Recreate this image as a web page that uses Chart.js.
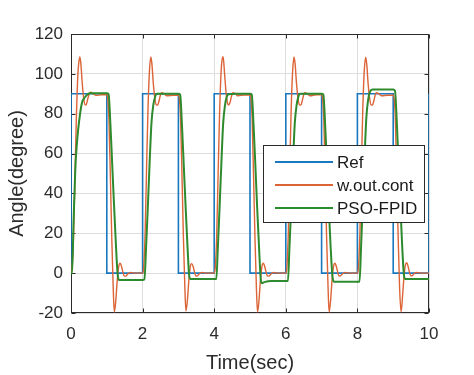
<!DOCTYPE html>
<html>
<head>
<meta charset="utf-8">
<script src="https://cdn.jsdelivr.net/npm/chart.js@4.4.1/dist/chart.umd.min.js"></script>
<style>
  html, body { margin: 0; padding: 0; background: #fff; }
  #wrap { width: 474px; height: 375px; }
</style>
</head>
<body>
<div id="wrap"><canvas id="angleChart" width="474" height="375"></canvas></div>
<script>
/* ─── Data ─── */
const xTicks = [0, 2, 4, 6, 8, 10];
const yTicks = [-20, 0, 20, 40, 60, 80, 100, 120];

const refTime  = [0, 0, 1, 1, 2, 2, 3, 3, 4, 4, 5, 5, 6, 6, 7, 7, 8, 8, 9, 9, 10, 10];
const refAngle = [0, 90, 90, 0, 0, 90, 90, 0, 0, 90, 90, 0, 0, 90, 90, 0, 0, 90, 90, 0, 0, 90];

const orangeTime = [
  0.00, 0.03, 0.07, 0.11, 0.15, 0.19, 0.22, 0.25, 0.28, 0.32, 0.36, 0.40, 0.43, 0.47, 0.51, 0.55, 0.62, 0.70, 0.85,
  1.00, 1.03, 1.06, 1.10, 1.14, 1.18, 1.21, 1.25, 1.29, 1.33, 1.37, 1.41, 1.45, 1.49, 1.53, 1.58, 1.66, 1.80,
  2.00, 2.03, 2.07, 2.11, 2.15, 2.19, 2.23, 2.26, 2.30, 2.34, 2.38, 2.42, 2.46, 2.50, 2.54, 2.60, 2.68, 2.85,
  3.00, 3.03, 3.06, 3.10, 3.14, 3.18, 3.21, 3.25, 3.29, 3.33, 3.37, 3.41, 3.45, 3.49, 3.53, 3.58, 3.66, 3.80,
  4.00, 4.03, 4.07, 4.11, 4.15, 4.19, 4.22, 4.25, 4.29, 4.33, 4.37, 4.40, 4.44, 4.48, 4.52, 4.58, 4.66, 4.85,
  5.00, 5.03, 5.06, 5.10, 5.14, 5.18, 5.21, 5.25, 5.29, 5.33, 5.37, 5.41, 5.45, 5.49, 5.53, 5.58, 5.66, 5.80,
  6.00, 6.03, 6.07, 6.11, 6.15, 6.19, 6.23, 6.26, 6.30, 6.34, 6.38, 6.42, 6.46, 6.50, 6.54, 6.60, 6.68, 6.85,
  7.00, 7.03, 7.06, 7.10, 7.14, 7.18, 7.21, 7.25, 7.29, 7.33, 7.37, 7.41, 7.45, 7.49, 7.53, 7.58, 7.66, 7.80,
  8.00, 8.03, 8.07, 8.11, 8.15, 8.19, 8.23, 8.26, 8.30, 8.34, 8.38, 8.42, 8.46, 8.50, 8.54, 8.60, 8.68, 8.85,
  9.00, 9.03, 9.06, 9.10, 9.14, 9.18, 9.22, 9.26, 9.30, 9.34, 9.38, 9.41, 9.45, 9.49, 9.53, 9.58, 9.66, 9.80,
  10.00
];
const orangeAngle = [
  0, 3, 18, 48, 78, 99, 106, 108.5, 104, 94, 87, 84.3, 84.8, 87.5, 90, 90.8, 90, 89.2, 89.5,
  89.5, 87, 77, 48, 17, -8, -19.5, -14, -4, 3, 5, 3.5, 0.5, -1.5, -1.5, -0.5, 0.3, 0,
  0, 3, 20, 52, 82, 101, 108.5, 105, 95, 88, 84.5, 84.3, 86.5, 89.5, 90.5, 90, 89, 89.3,
  89.3, 87, 78, 49, 18, -7, -19, -14, -4, 3, 4.8, 3.5, 0.5, -1.5, -1.4, -0.4, 0.3, 0,
  0, 3, 19, 50, 80, 100, 107, 108.6, 100, 91, 85.5, 84.4, 85.5, 88.5, 90.5, 90.2, 89, 89.4,
  89.4, 87, 77, 48, 17, -8, -19.5, -14, -4, 3, 5, 3.5, 0.5, -1.5, -1.5, -0.5, 0.3, 0,
  0, 3, 20, 52, 82, 101, 108.5, 105, 95, 88, 84.5, 84.3, 86.5, 89.5, 90.5, 90, 89, 89.5,
  89.5, 87, 78, 49, 18, -7, -19.5, -14, -4, 3, 5, 3.5, 0.5, -1.5, -1.4, -0.4, 0.3, 0,
  0, 3, 20, 52, 82, 101, 108.3, 105, 95, 88, 84.5, 84.3, 86.5, 89.5, 90.5, 90, 89, 89.3,
  89.3, 87, 77, 48, 17, -8, -19.5, -12, -2, 4, 5.2, 3.8, 0.8, -1.2, -1.3, -0.3, 0.3, 0,
  0
];

const greenTime = [
  0.00, 0.03, 0.07, 0.12, 0.16, 0.20, 0.30, 0.40, 0.53, 0.90,
  1.00, 1.05, 1.10, 1.15, 1.20, 1.25, 1.30, 1.34, 1.60,
  2.00, 2.05, 2.10, 2.15, 2.20, 2.25, 2.30, 2.35, 2.40, 2.60,
  3.00, 3.05, 3.10, 3.15, 3.20, 3.25, 3.30, 3.34, 3.60,
  4.00, 4.06, 4.10, 4.15, 4.20, 4.25, 4.30, 4.35, 4.40, 4.60,
  5.00, 5.05, 5.10, 5.15, 5.20, 5.25, 5.30, 5.33, 5.40, 5.60,
  6.00, 6.06, 6.10, 6.15, 6.20, 6.25, 6.30, 6.35, 6.40, 6.60,
  7.00, 7.05, 7.10, 7.15, 7.20, 7.25, 7.30, 7.34, 7.60,
  8.00, 8.06, 8.10, 8.15, 8.20, 8.25, 8.30, 8.35, 8.42, 8.60,
  9.00, 9.05, 9.10, 9.15, 9.20, 9.25, 9.30, 9.34, 9.60,
  10.00
];
const greenAngle = [
  0, 0, 25, 52, 64, 72, 85, 88.5, 90.3, 90.3,
  90.3, 89.8, 75, 55, 35, 16, 0, -3.4, -3.4,
  -3.4, -3.2, 14, 35, 57, 76, 84.5, 88.5, 90, 90,
  90, 89.5, 74, 54, 34, 15, -1, -3, -3,
  -3, -3, 12, 33, 55, 75, 84, 88.5, 89.8, 90,
  90, 89.5, 74, 54, 33, 14, -3, -5, -4.5, -4,
  -4, -4, 12, 33, 55, 75, 84, 88.5, 90, 90,
  90, 89.5, 74, 54, 33, 14, -1, -4.3, -4.3,
  -4.3, -4.3, 12, 35, 58, 78, 87, 91, 92.2, 92.2,
  92.2, 91.5, 76, 55, 34, 14, -1, -3, -3,
  -3
];

const toPoints = (ts, ys) => ts.map((t, i) => ({ x: t, y: ys[i] }));

const FONT = '"Liberation Sans", Arial, Helvetica, sans-serif';
const TEXT = '#2b2b2b';

/* ─── Axes frame with inward ticks (drawn under the lines) ─── */
const axesBox = {
  id: 'axesBox',
  beforeDatasetsDraw(chart) {
    const { ctx, chartArea: a, scales: { x, y } } = chart;
    const L = Math.round(a.left) + 0.5, R = Math.round(a.right) - 0.5;
    const T = Math.round(a.top) + 0.5, B = Math.round(a.bottom) - 0.5;
    ctx.save();
    ctx.strokeStyle = TEXT;
    ctx.lineWidth = 1;
    ctx.strokeRect(L, T, R - L, B - T);
    ctx.beginPath();
    xTicks.forEach(v => {
      const px = Math.round(x.getPixelForValue(v)) + 0.5;
      ctx.moveTo(px, B); ctx.lineTo(px, B - 4);
      ctx.moveTo(px, T); ctx.lineTo(px, T + 4);
    });
    yTicks.forEach(v => {
      const py = Math.round(y.getPixelForValue(v)) + 0.5;
      ctx.moveTo(L, py); ctx.lineTo(L + 4, py);
      ctx.moveTo(R, py); ctx.lineTo(R - 4, py);
    });
    ctx.stroke();
    ctx.restore();
  }
};

/* ─── Boxed legend inside the plot ─── */
const boxLegend = {
  id: 'boxLegend',
  afterDraw(chart) {
    const { ctx, chartArea: a } = chart;
    const x0 = a.right - 166, y0 = a.top + 111, w = 161, h = 77;
    ctx.save();
    ctx.fillStyle = '#fff';
    ctx.fillRect(x0, y0, w, h);
    ctx.strokeStyle = TEXT;
    ctx.lineWidth = 1;
    ctx.strokeRect(x0 + 0.5, y0 + 0.5, w, h);
    ctx.font = '17px ' + FONT;
    ctx.textBaseline = 'middle';
    chart.data.datasets.forEach((ds, i) => {
      const yy = y0 + 17 + i * 23;
      ctx.strokeStyle = ds.borderColor;
      ctx.lineWidth = 2;
      ctx.beginPath();
      ctx.moveTo(x0 + 12, yy);
      ctx.lineTo(x0 + 70, yy);
      ctx.stroke();
      ctx.fillStyle = '#1a1a1a';
      ctx.fillText(ds.label, x0 + 74, yy + 1);
    });
    ctx.restore();
  }
};

/* ─── Chart ─── */
new Chart(document.getElementById('angleChart').getContext('2d'), {
  type: 'line',
  data: {
    datasets: [
      {
        label: 'Ref',
        data: toPoints(refTime, refAngle),
        borderColor: '#1a78bf',
        borderWidth: 1.6,
        tension: 0,
        order: 3
      },
      {
        label: 'w.out.cont',
        data: toPoints(orangeTime, orangeAngle),
        borderColor: '#dc6436',
        borderWidth: 1.4,
        cubicInterpolationMode: 'monotone',
        order: 2
      },
      {
        label: 'PSO-FPID',
        data: toPoints(greenTime, greenAngle),
        borderColor: '#2d8a2d',
        borderWidth: 2,
        cubicInterpolationMode: 'monotone',
        order: 1
      }
    ]
  },
  options: {
    responsive: false,
    animation: false,
    events: [],
    layout: { padding: { top: 34, right: 45, left: 0, bottom: 0 } },
    elements: { point: { radius: 0 } },
    plugins: {
      legend: { display: false },
      tooltip: { enabled: false }
    },
    scales: {
      x: {
        type: 'linear',
        min: 0,
        max: 10,
        afterBuildTicks: s => { s.ticks = xTicks.map(v => ({ value: v })); },
        afterFit: s => { s.height = 62; },
        grid: { color: '#dedede', drawTicks: false },
        border: { display: false },
        ticks: { color: TEXT, font: { size: 17, family: FONT }, padding: 11, maxRotation: 0 },
        title: {
          display: true, text: 'Time(sec)', color: TEXT,
          font: { size: 20, family: FONT }, padding: { top: 0, bottom: 0 }
        }
      },
      y: {
        type: 'linear',
        min: -20,
        max: 120,
        afterBuildTicks: s => { s.ticks = yTicks.map(v => ({ value: v })); },
        afterFit: s => { s.width = 71; },
        grid: { color: '#dedede', drawTicks: false },
        border: { display: false },
        ticks: { color: TEXT, font: { size: 17, family: FONT }, padding: 8 },
        title: {
          display: true, text: 'Angle(degree)', color: TEXT,
          font: { size: 20, family: FONT }, padding: { top: 5, bottom: 0 }
        }
      }
    }
  },
  plugins: [axesBox, boxLegend]
});
</script>
</body>
</html>
